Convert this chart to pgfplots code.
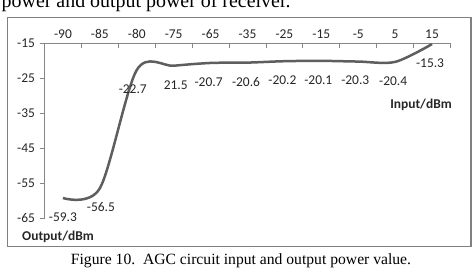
\documentclass[border=0pt]{standalone}
\usepackage{fontspec}
\setmainfont{Carlito}
\newfontfamily\serifrm{Liberation Serif}
\usepackage{pgfplots}
\usepackage{pgfplotstable}
\pgfplotsset{compat=1.18}
\definecolor{axgray}{HTML}{868686}
\definecolor{lngray}{HTML}{5E5E5E}
\definecolor{bordergray}{HTML}{808080}

\pgfplotstableread{
x y lab dx
0 -59.3 -59.3 0
1 -56.5 -56.5 1
2 -22.7 -22.7 -4
3 -21.5 21.5 2
4 -20.7 -20.7 -2
5 -20.6 -20.6 -1.5
6 -20.2 -20.2 -2
7 -20.1 -20.1 -3
8 -20.3 -20.3 -3
9 -20.4 -20.4 -2
10 -15.3 -15.3 -2
}\agc

\begin{document}
\begin{tikzpicture}[x=1bp,y=1bp]
\useasboundingbox (0,0) rectangle (474,271);
\node[anchor=base west,inner sep=0,font=\serifrm\fontsize{20}{22}\selectfont] at (1.5,263.8) {power and output power of receiver.};
\draw[bordergray,line width=1.3bp] (7.5,24.5) rectangle (471,253.5);
\begin{axis}[
  at={(44.5bp,53bp)}, anchor=south west,
  width=406bp, height=175bp, scale only axis,
  xmin=-0.5, xmax=10.5, ymin=-65, ymax=-15,
  clip=false,
  axis x line*=top, axis y line*=left,
  axis line style={draw=axgray, line width=0.8bp},
  xtick={0,...,10},
  xticklabels={-90,-85,-80,-75,-65,-35,-25,-15,-5,5,15},
  ytick={-65,-55,-45,-35,-25,-15},
  yticklabels={-65,-55,-45,-35,-25,-15},
  xtick style={draw=none},
  ytick style={draw=axgray, line width=0.8bp},
  tick align=outside,
  major tick length=5bp,
  ticklabel style={font=\fontsize{13.5}{15}\selectfont, text=black!85},
  xticklabel style={yshift=-4.5bp},
  yticklabel style={xshift=-1bp},
  nodes near coords,
  point meta=explicit symbolic,
  visualization depends on={\thisrow{dx} \as \dx},
  nodes near coords style={font=\fontsize{13.5}{15}\selectfont, text=black!85, anchor=center, xshift={\dx*1bp}, yshift=-19bp},
]
\addplot[lngray, line width=2.5bp, smooth, tension=0.5, mark=none] table[x=x, y=y, meta=lab] {\agc};
\pgfplotsinvokeforeach{-0.5,0.5,...,10.5}{
  \draw[axgray, line width=0.8bp] (axis cs:#1,-15) -- ([yshift=-4.5bp]axis cs:#1,-15);
}
\end{axis}
\node[font=\bfseries\fontsize{13.5}{15}\selectfont, text=black!85] at (421,166) {Input/dBm};
\node[font=\bfseries\fontsize{13.5}{15}\selectfont, text=black!85] at (58,34) {Output/dBm};
\node[anchor=base,inner sep=0,font=\serifrm\fontsize{15.7}{18}\selectfont] at (241,6.3) {Figure 10.\ \ AGC circuit input and output power value.};
\end{tikzpicture}
\end{document}
